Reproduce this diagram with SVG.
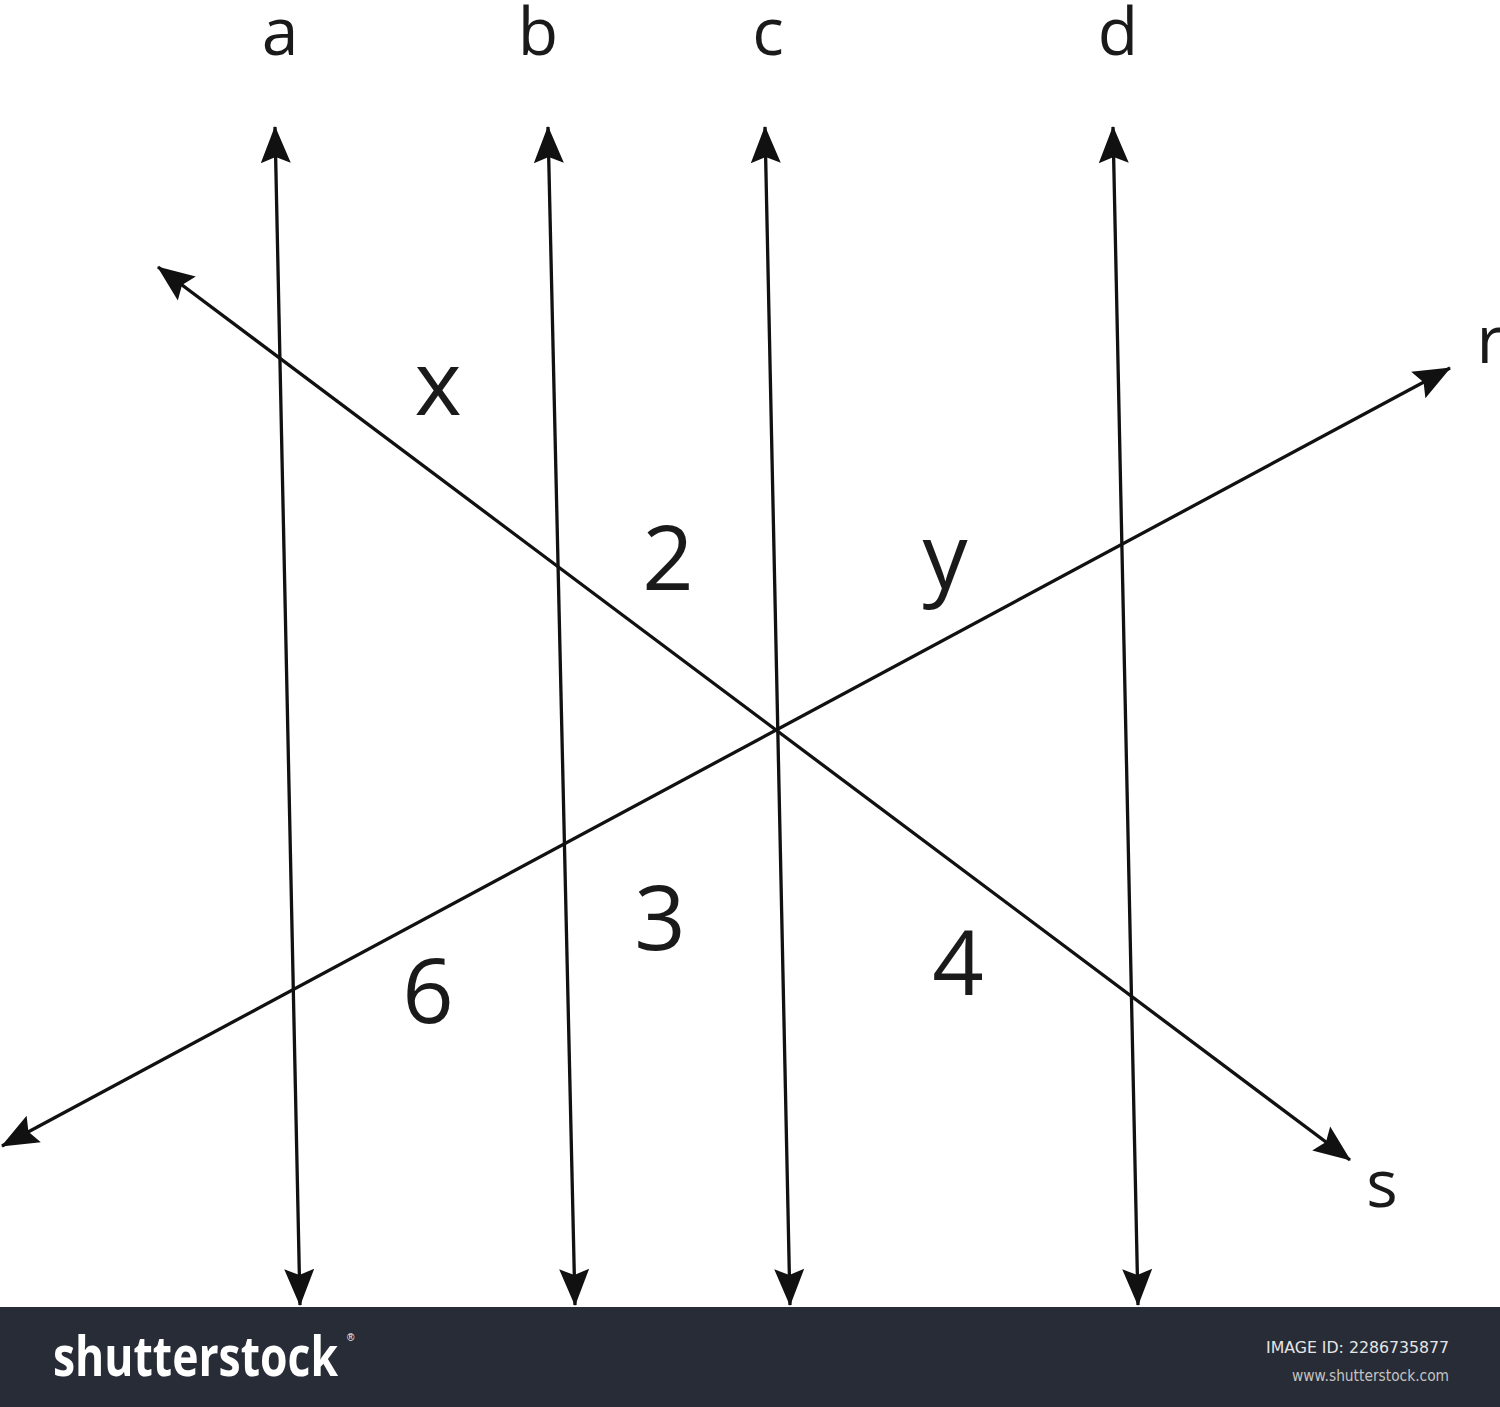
<svg xmlns="http://www.w3.org/2000/svg" width="1500" height="1407" viewBox="0 0 1500 1407">
<style>
.ln{stroke:#111;stroke-width:3.3;fill:none}
.lbl{font-family:"Open Sans","Liberation Sans",sans-serif;fill:#1a1a1a;text-anchor:middle}
.top{font-size:66px}
.big{font-size:90px}
</style>
<defs>
<marker id="ah" markerUnits="userSpaceOnUse" markerWidth="42" markerHeight="34" viewBox="-38 -17 42 34" refX="0" refY="0" orient="auto-start-reverse">
<path d="M1,0 L-36,-15 L-30,0 L-36,15 Z" fill="#111"/>
</marker>
</defs>
<rect width="1500" height="1407" fill="#fff"/>
<g id="connectors">
<line id="line-a" class="ln" x1="275" y1="127" x2="300" y2="1305" marker-start="url(#ah)" marker-end="url(#ah)"/>
<line id="line-b" class="ln" x1="548" y1="127" x2="575" y2="1305" marker-start="url(#ah)" marker-end="url(#ah)"/>
<line id="line-c" class="ln" x1="765" y1="127" x2="790" y2="1305" marker-start="url(#ah)" marker-end="url(#ah)"/>
<line id="line-d" class="ln" x1="1113" y1="127" x2="1138" y2="1305" marker-start="url(#ah)" marker-end="url(#ah)"/>
<line id="line-s" class="ln" x1="158" y1="267" x2="1350" y2="1160" marker-start="url(#ah)" marker-end="url(#ah)"/>
<line id="line-r" class="ln" x1="2" y1="1146" x2="1450" y2="368" marker-start="url(#ah)" marker-end="url(#ah)"/>
</g>
<g id="label-a"><text class="lbl top" x="280" y="55">a</text></g>
<g id="label-b"><text class="lbl top" x="538" y="55">b</text></g>
<g id="label-c"><text class="lbl top" x="768" y="55">c</text></g>
<g id="label-d"><text class="lbl top" x="1118" y="55">d</text></g>
<g id="label-r"><text class="lbl top" x="1490" y="363">r</text></g>
<g id="label-s"><text class="lbl top" x="1382" y="1207">s</text></g>
<g id="label-x"><text class="lbl big" x="438" y="415">x</text></g>
<g id="label-2"><text class="lbl big" x="668" y="590">2</text></g>
<g id="label-y"><text class="lbl big" x="945" y="588">y</text></g>
<g id="label-3"><text class="lbl big" x="660" y="950">3</text></g>
<g id="label-4"><text class="lbl big" x="958" y="995">4</text></g>
<g id="label-6"><text class="lbl big" x="428" y="1023">6</text></g>
<g id="footer">
<rect x="0" y="1307" width="1500" height="100" fill="#282c36"/>
<text x="53" y="1376" font-family="'Open Sans','Liberation Sans',sans-serif" font-weight="bold" font-size="56" fill="#fff" textLength="285" lengthAdjust="spacingAndGlyphs">shutterstock</text>
<text x="347" y="1341" font-family="'Liberation Sans',sans-serif" font-size="10" fill="#fff">®</text>
<text x="1449" y="1353" text-anchor="end" font-family="'DejaVu Sans',sans-serif" font-size="16" fill="#e6e6e6" textLength="183" lengthAdjust="spacingAndGlyphs">IMAGE ID: 2286735877</text>
<text x="1449" y="1381" text-anchor="end" font-family="'DejaVu Sans',sans-serif" font-size="16" fill="#c4c4c4" textLength="157" lengthAdjust="spacingAndGlyphs">www.shutterstock.com</text>
</g>
</svg>
